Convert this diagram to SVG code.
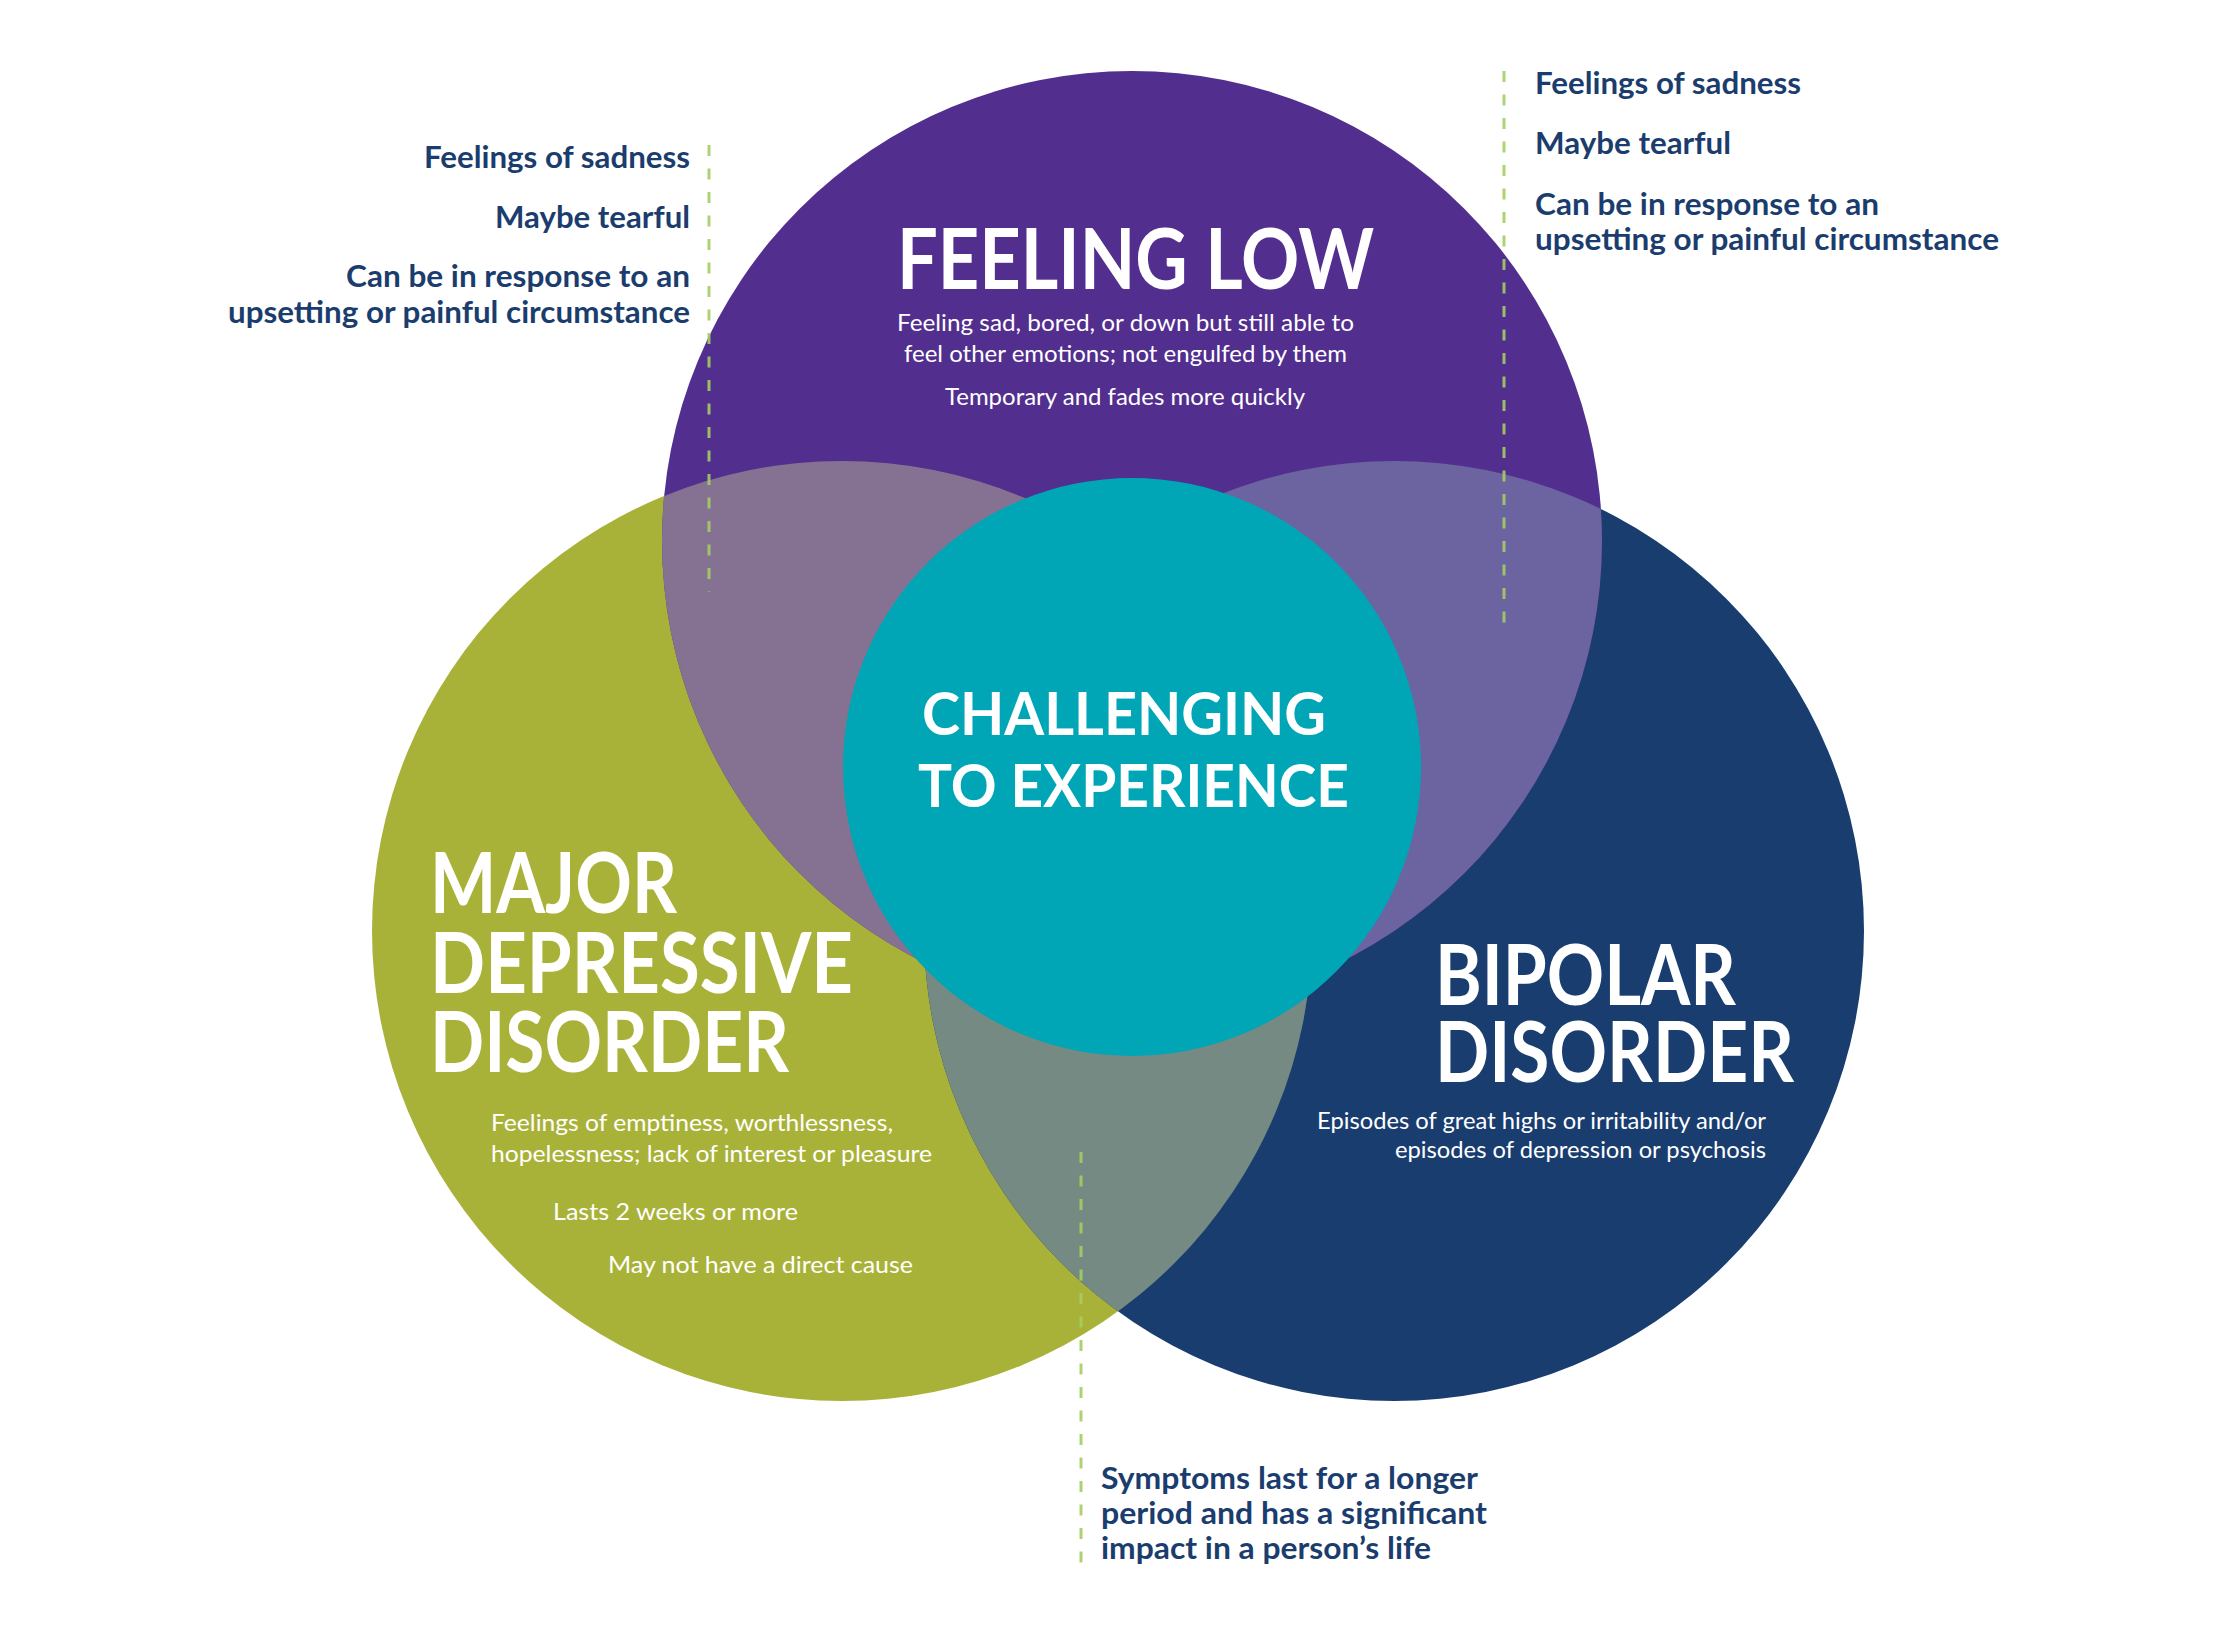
<svg xmlns="http://www.w3.org/2000/svg" width="2239" height="1631" viewBox="0 0 2239 1631">
<style>
.h{font-family:Lato,"Open Sans","Liberation Sans",sans-serif;font-weight:700;fill:#ffffff;font-size:84px}
.c{font-family:Lato,"Open Sans","Liberation Sans",sans-serif;font-weight:700;fill:#ffffff;font-size:60px}
.b{font-family:Lato,"Open Sans","Liberation Sans",sans-serif;font-weight:400;fill:#ffffff;font-size:24px}
.a{font-family:Lato,"Open Sans","Liberation Sans",sans-serif;font-weight:700;fill:#1b3d6e;font-size:30px}
.dash{stroke:#a4cd62;stroke-width:3;stroke-dasharray:11 12.5;fill:none;opacity:0.9}
</style>
<defs>
<clipPath id="cP"><circle cx="1132" cy="541" r="470"/></clipPath>
<clipPath id="cG"><circle cx="842" cy="931" r="470"/></clipPath>
</defs>
<rect width="2239" height="1631" fill="#ffffff"/>

<g id="node-major-depressive">
<circle cx="842" cy="931" r="470" fill="#a9b238"/>
</g>
<g id="node-bipolar">
<circle cx="1394" cy="931" r="470" fill="#193d6f"/>
</g>
<g id="node-feeling-low">
<circle cx="1132" cy="541" r="470" fill="#522e8e"/>
</g>
<g id="overlaps">
<g clip-path="url(#cP)"><circle cx="842" cy="931" r="470" fill="#857293"/></g>
<g clip-path="url(#cP)"><circle cx="1394" cy="931" r="470" fill="#6c63a1"/></g>
<g clip-path="url(#cG)"><circle cx="1394" cy="931" r="470" fill="#748a82"/></g>
</g>
<g id="node-challenging">
<circle cx="1132" cy="767" r="289" fill="#00a6b6"/>
<text class="c" x="922" y="735" textLength="404" lengthAdjust="spacingAndGlyphs">CHALLENGING</text>
<text class="c" x="918" y="807" textLength="431" lengthAdjust="spacingAndGlyphs">TO EXPERIENCE</text>
</g>

<g id="label-feeling-low">
<text class="h" x="897" y="289" textLength="477" lengthAdjust="spacingAndGlyphs">FEELING LOW</text>
<text class="b" x="897" y="331" textLength="457" lengthAdjust="spacingAndGlyphs">Feeling sad, bored, or down but still able to</text>
<text class="b" x="904" y="362" textLength="443" lengthAdjust="spacingAndGlyphs">feel other emotions; not engulfed by them</text>
<text class="b" x="945" y="405" textLength="360" lengthAdjust="spacingAndGlyphs">Temporary and fades more quickly</text>
</g>

<g id="label-major">
<text class="h" x="430" y="913" textLength="247" lengthAdjust="spacingAndGlyphs">MAJOR</text>
<text class="h" x="430" y="993" textLength="423" lengthAdjust="spacingAndGlyphs">DEPRESSIVE</text>
<text class="h" x="430" y="1072" textLength="359" lengthAdjust="spacingAndGlyphs">DISORDER</text>
<text class="b" x="491" y="1131" textLength="402" lengthAdjust="spacingAndGlyphs">Feelings of emptiness, worthlessness,</text>
<text class="b" x="491" y="1162" textLength="441" lengthAdjust="spacingAndGlyphs">hopelessness; lack of interest or pleasure</text>
<text class="b" x="553" y="1220" textLength="245" lengthAdjust="spacingAndGlyphs">Lasts 2 weeks or more</text>
<text class="b" x="608" y="1273" textLength="305" lengthAdjust="spacingAndGlyphs">May not have a direct cause</text>
</g>

<g id="label-bipolar">
<text class="h" x="1435" y="1005" textLength="301" lengthAdjust="spacingAndGlyphs">BIPOLAR</text>
<text class="h" x="1435" y="1082" textLength="359" lengthAdjust="spacingAndGlyphs">DISORDER</text>
<text class="b" x="1766" y="1129" text-anchor="end" textLength="449" lengthAdjust="spacingAndGlyphs">Episodes of great highs or irritability and/or</text>
<text class="b" x="1766" y="1158" text-anchor="end" textLength="371" lengthAdjust="spacingAndGlyphs">episodes of depression or psychosis</text>
</g>

<g id="connectors">
<line class="dash" x1="709" y1="145" x2="709" y2="592"/>
<line class="dash" x1="1504" y1="71" x2="1504" y2="624"/>
<line class="dash" x1="1081" y1="1152" x2="1081" y2="1564"/>
</g>

<g id="note-left">
<text class="a" x="690" y="168" text-anchor="end" textLength="266" lengthAdjust="spacingAndGlyphs">Feelings of sadness</text>
<text class="a" x="690" y="228" text-anchor="end" textLength="195" lengthAdjust="spacingAndGlyphs">Maybe tearful</text>
<text class="a" x="690" y="287" text-anchor="end" textLength="344" lengthAdjust="spacingAndGlyphs">Can be in response to an</text>
<text class="a" x="690" y="323" text-anchor="end" textLength="462" lengthAdjust="spacingAndGlyphs">upsetting or painful circumstance</text>
</g>

<g id="note-right">
<text class="a" x="1535" y="94" textLength="266" lengthAdjust="spacingAndGlyphs">Feelings of sadness</text>
<text class="a" x="1535" y="154" textLength="196" lengthAdjust="spacingAndGlyphs">Maybe tearful</text>
<text class="a" x="1535" y="215" textLength="344" lengthAdjust="spacingAndGlyphs">Can be in response to an</text>
<text class="a" x="1535" y="250" textLength="464" lengthAdjust="spacingAndGlyphs">upsetting or painful circumstance</text>
</g>

<g id="note-bottom">
<text class="a" x="1101" y="1489" textLength="377" lengthAdjust="spacingAndGlyphs">Symptoms last for a longer</text>
<text class="a" x="1101" y="1524" textLength="386" lengthAdjust="spacingAndGlyphs">period and has a significant</text>
<text class="a" x="1101" y="1559" textLength="330" lengthAdjust="spacingAndGlyphs">impact in a person’s life</text>
</g>
</svg>
